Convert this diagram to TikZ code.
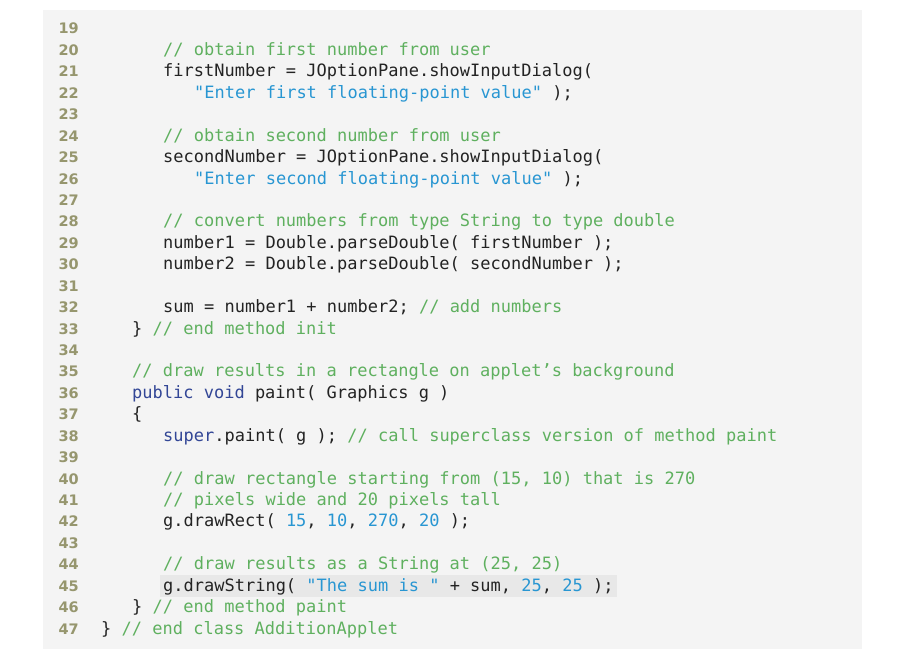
\documentclass[tikz,border=0pt]{standalone}
\usepackage{fontspec}
\newfontfamily\codefont{DejaVu Sans Mono}
\newfontfamily\numfont{DejaVu Sans}
\definecolor{cmt}{RGB}{95,176,95}
\definecolor{str}{RGB}{40,150,210}
\definecolor{kw}{RGB}{50,70,150}
\definecolor{lnum}{RGB}{150,150,110}
\definecolor{txt}{RGB}{35,35,35}
\definecolor{bg}{RGB}{244,244,244}
\definecolor{hl}{RGB}{232,232,232}
\newcommand\Cm[1]{\textcolor{cmt}{#1}}
\newcommand\St[1]{\textcolor{str}{#1}}
\newcommand\Kw[1]{\textcolor{kw}{#1}}
\tikzset{
  lnumstyle/.style={anchor=base east,inner sep=0pt,font=\numfont\bfseries\fontsize{14.5}{14.5}\selectfont,text=lnum},
  codestyle/.style={anchor=base west,inner sep=0pt,font=\codefont\fontsize{17}{17}\selectfont,text=txt},
}
\newcommand\cl[3]{%
  \pgfmathsetmacro\yy{651-(34+(#1-19)*21.43)}%
  \node[lnumstyle] (n#1) at (79,\yy) {#1};%
  \node[codestyle] (c#1) at ({101+#2*10.33},\yy) {\strut #3};}
\begin{document}
\begin{tikzpicture}[x=1pt,y=1pt]
\useasboundingbox (0,0) rectangle (905,651);
\fill[white] (0,0) rectangle (905,651);
\fill[bg] (43,2) rectangle (862,641);
\fill[hl] (160,{651-597}) rectangle (617,{651-575});
\cl{19}{0}{}
\cl{20}{6}{\Cm{// obtain first number from user}}
\cl{21}{6}{firstNumber = JOptionPane.showInputDialog(}
\cl{22}{9}{\St{"Enter first floating-point value"} );}
\cl{23}{0}{}
\cl{24}{6}{\Cm{// obtain second number from user}}
\cl{25}{6}{secondNumber = JOptionPane.showInputDialog(}
\cl{26}{9}{\St{"Enter second floating-point value"} );}
\cl{27}{0}{}
\cl{28}{6}{\Cm{// convert numbers from type String to type double}}
\cl{29}{6}{number1 = Double.parseDouble( firstNumber );}
\cl{30}{6}{number2 = Double.parseDouble( secondNumber );}
\cl{31}{0}{}
\cl{32}{6}{sum = number1 + number2; \Cm{// add numbers}}
\cl{33}{3}{\} \Cm{// end method init}}
\cl{34}{0}{}
\cl{35}{3}{\Cm{// draw results in a rectangle on applet’s background}}
\cl{36}{3}{\Kw{public void} paint( Graphics g )}
\cl{37}{3}{\{}
\cl{38}{6}{\Kw{super}.paint( g ); \Cm{// call superclass version of method paint}}
\cl{39}{0}{}
\cl{40}{6}{\Cm{// draw rectangle starting from (15, 10) that is 270}}
\cl{41}{6}{\Cm{// pixels wide and 20 pixels tall}}
\cl{42}{6}{g.drawRect( \St{15}, \St{10}, \St{270}, \St{20} );}
\cl{43}{0}{}
\cl{44}{6}{\Cm{// draw results as a String at (25, 25)}}
\cl{45}{6}{g.drawString( \St{"The sum is "} + sum, \St{25}, \St{25} );}
\cl{46}{3}{\} \Cm{// end method paint}}
\cl{47}{0}{\} \Cm{// end class AdditionApplet}}
\end{tikzpicture}
\end{document}
